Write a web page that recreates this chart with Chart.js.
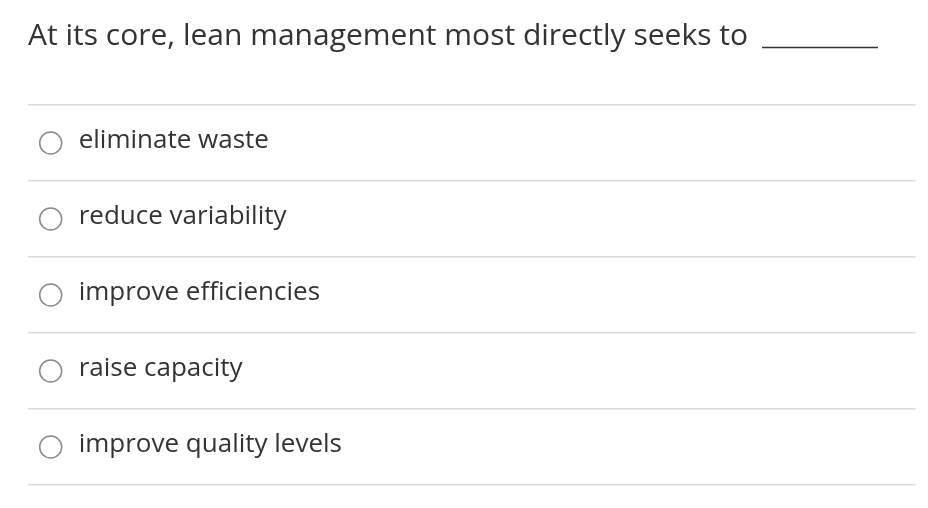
<!DOCTYPE html>
<html><head><meta charset="utf-8">
<script src="https://cdn.jsdelivr.net/npm/chart.js@4"></script>
<style>html,body{margin:0;padding:0;background:#fff}#w{width:928px;height:508px}</style>
</head><body><div id="w"><canvas id="c"></canvas></div>
<script>
const question = "At its core, lean management most directly seeks to";
const choices = ["eliminate waste","reduce variability","improve efficiencies","raise capacity","improve quality levels"];
const markerX = [23,23,23,23,23];

const textPlugin = {
  id:'txt',
  afterDraw(chart){
    const ctx=chart.ctx, y=chart.scales.y, x=chart.scales.x;
    ctx.save();
    ctx.fillStyle='#333';
    ctx.font='30px "Open Sans"';
    ctx.textBaseline='alphabetic';
    ctx.fillText(question,28,45);
    const w=ctx.measureText(question).width;
    ctx.strokeStyle='#333';ctx.lineWidth=1.5;
    ctx.beginPath();ctx.moveTo(28+w+14,47.5);ctx.lineTo(878,47.5);ctx.stroke();
    ctx.font='26px "Open Sans"';
    ctx.textBaseline='middle';
    choices.forEach((c,i)=>{
      ctx.fillText(c,x.getPixelForValue(markerX[i])+28,y.getPixelForValue(i)-2);
    });
    ctx.restore();
  }
};
new Chart(document.getElementById('c'),{
  type:'scatter',
  data:{datasets:[{data:choices.map((c,i)=>({x:markerX[i],y:i})),
    pointStyle:'circle',pointRadius:11,pointHoverRadius:11,
    backgroundColor:'#fff',borderColor:'#8a8a8a',borderWidth:1.5}]},
  options:{
    responsive:true,maintainAspectRatio:false,animation:false,
    layout:{padding:{left:28,right:0,top:105,bottom:23}},
    plugins:{legend:{display:false},tooltip:{enabled:false}},
    scales:{
      x:{type:'linear',min:0,max:900,display:false},
      y:{type:'category',labels:choices,offset:true,reverse:false,
        ticks:{display:false},border:{display:false},
        grid:{offset:true,drawTicks:false,lineWidth:1.5,
          color:ctx=>ctx.index===choices.length?'rgba(0,0,0,0)':'#dcdcdc'}}
    }
  },
  plugins:[textPlugin]
});
</script></body></html>
